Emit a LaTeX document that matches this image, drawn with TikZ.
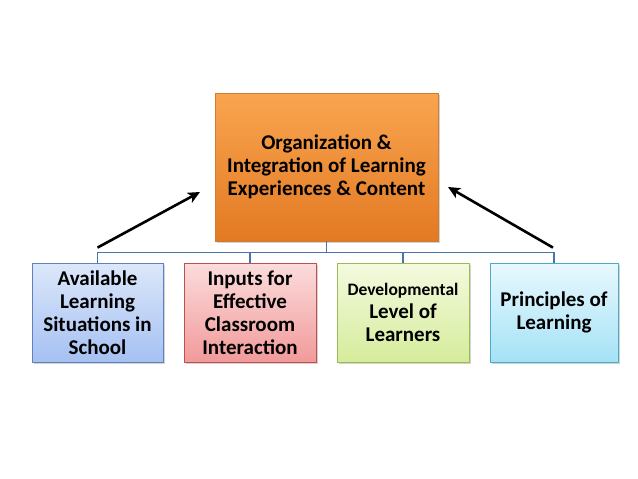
\documentclass[tikz,border=0pt]{standalone}
\usepackage{fontspec}
\setmainfont{Carlito}
\usetikzlibrary{shadows,arrows.meta,calc}
\definecolor{orT}{HTML}{FAA450}
\definecolor{orB}{HTML}{E27A22}
\definecolor{orD}{HTML}{D27A30}
\definecolor{blT}{HTML}{DCE7FA}
\definecolor{blB}{HTML}{A5C1F2}
\definecolor{blD}{HTML}{5F82BC}
\definecolor{rdT}{HTML}{FBDCDC}
\definecolor{rdB}{HTML}{F29A9A}
\definecolor{rdD}{HTML}{C0504D}
\definecolor{grT}{HTML}{F4FADF}
\definecolor{grB}{HTML}{D5EC9B}
\definecolor{grD}{HTML}{9BBB59}
\definecolor{cyT}{HTML}{E8F8FE}
\definecolor{cyB}{HTML}{A5E2F6}
\definecolor{cyD}{HTML}{4BACC6}
\definecolor{conn}{HTML}{4A74A8}
\tikzset{
  box/.style={draw, line width=0.8pt, align=center, inner sep=2pt,
    font=\fontsize{21}{23}\selectfont\bfseries,
    drop shadow={shadow xshift=1.5pt, shadow yshift=-2pt, opacity=0.35},
    shading=axis, shading angle=0},
  conline/.style={draw=conn, line width=1.2pt},
  bigarrow/.style={draw=black, line width=2.6pt, -{Stealth[length=12pt,width=11pt,inset=3pt]}},
}
\begin{document}
\begin{tikzpicture}[x=1pt,y=-1pt]
\useasboundingbox (0,0) rectangle (638,479);
\node[box, minimum width=223pt, minimum height=148pt, top color=orT, bottom color=orB, draw=orD] (top) at (326.5,167)
  {Organization \&\\Integration of Learning\\Experiences \& Content};
\node[box, minimum width=131pt, minimum height=99pt, top color=blT, bottom color=blB, draw=blD] (b1) at (97.5,312.5)
  {Available\\Learning\\Situations in\\School};
\node[box, minimum width=132pt, minimum height=99pt, top color=rdT, bottom color=rdB, draw=rdD] (b2) at (250,312.5)
  {Inputs for\\Effective\\Classroom\\Interaction};
\node[box, minimum width=132pt, minimum height=99pt, top color=grT, bottom color=grB, draw=grD] (b3) at (403,312.5)
  {{\fontsize{17.5}{23}\selectfont Developmental}\\Level of\\Learners};
\node[box, minimum width=128pt, minimum height=99pt, top color=cyT, bottom color=cyB, draw=cyD] (b4) at (554,312.5)
  {Principles of\\Learning};
\coordinate (bus) at ($(top.south)+(0,11)$);
\draw[conline] (top.south) -- (bus);
\draw[conline] (b1.north) -- (b1.north |- bus) -- (b4.north |- bus) -- (b4.north);
\draw[conline] (b2.north) -- (b2.north |- bus);
\draw[conline] (b3.north) -- (b3.north |- bus);
\coordinate (a1s) at ($(b1.north)+(0,-15)$);
\coordinate (a1e) at (200,192);
\coordinate (a2s) at ($(b4.north)+(-1,-15)$);
\coordinate (a2e) at (448,187);
\draw[bigarrow] (a1s) -- (a1e);
\draw[bigarrow] (a2s) -- (a2e);
\end{tikzpicture}
\end{document}
